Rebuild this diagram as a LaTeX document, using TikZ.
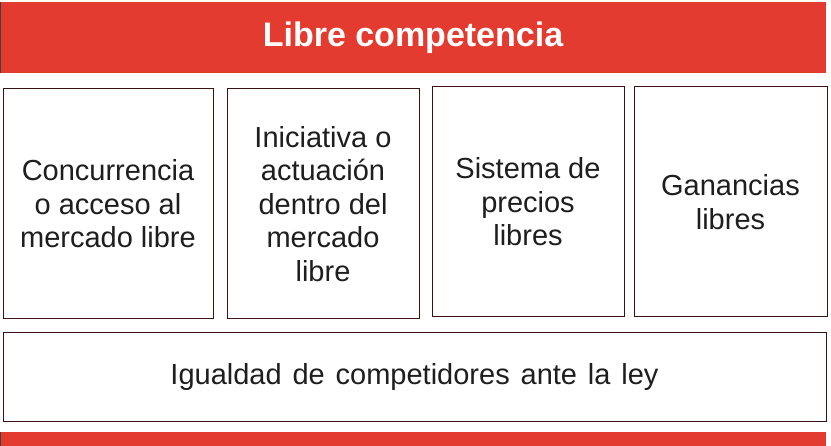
\documentclass[tikz,border=0pt]{standalone}
\usepackage{fontspec}
\setmainfont{Liberation Sans}
\newfontfamily\widespace[WordSpace=1.35]{Liberation Sans}
\definecolor{barred}{HTML}{E43B31}
\definecolor{boxline}{HTML}{3A1212}
\definecolor{boxtext}{HTML}{1E1E1E}
\tikzset{
	item/.style={draw=boxline, line width=1pt, fill=white, inner sep=0pt, align=center,
		text=boxtext, font=\fontsize{29}{33.5}\selectfont},
	bar/.style={fill=barred, draw=none, inner sep=0pt}
}
\begin{document}
\begin{tikzpicture}[x=1pt,y=-1pt]
				\useasboundingbox (0,0) rectangle (831,446);

				\node[bar, minimum width=826pt, minimum height=71pt, text=white,
					font=\bfseries\fontsize{34}{40}\selectfont] (title) at (413,37.5) {Libre competencia};
				\draw[line width=2pt, black!75] (title.north west) -- (title.south west);

				\node[item, minimum width=210pt, minimum height=230pt] (acceso) at (108,204)
					{Concurrencia\\o acceso al\\mercado libre};
				\node[item, minimum width=192pt, minimum height=230pt] (iniciativa) at (323,204)
					{Iniciativa o\\actuación\\dentro del\\mercado\\libre};
				\node[item, minimum width=192pt, minimum height=230pt] (precios) at (528,202)
					{Sistema de\\precios\\libres};
				\node[item, minimum width=193pt, minimum height=230pt] (ganancias) at (730.5,202)
					{Ganancias\\libres};

				\node[item, minimum width=823pt, minimum height=89pt,
					font=\widespace\fontsize{29}{33.5}\selectfont] (igualdad) at (414.5,377)
					{Igualdad de competidores ante la ley};

				\node[bar, minimum width=826pt, minimum height=14pt] (base) at (413,439) {};
				\draw[line width=2pt, black!75] (base.north west) -- (base.south west);
			\end{tikzpicture}
\end{document}
